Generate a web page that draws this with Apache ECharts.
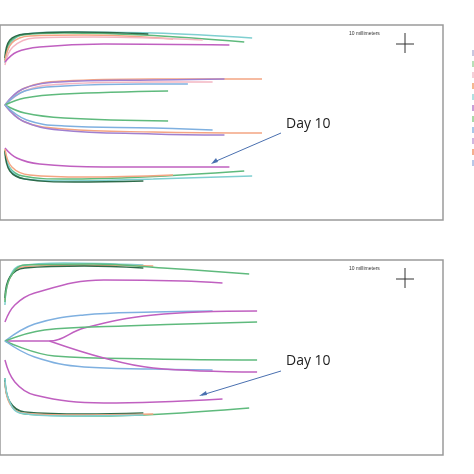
<!DOCTYPE html>
<html><head><meta charset="utf-8">
<script src="https://cdn.jsdelivr.net/npm/echarts@6/dist/echarts.min.js"></script>
<style>html,body{margin:0;background:#fff}#c{width:474px;height:474px}</style>
</head><body><div id="c"></div>
<script>
// curve points: [x, y] with y measured down from each panel's top edge
var topCurves = [
    {c: '#7fcfd0', p: [[0, 38], [6, 18], [20, 9], [60, 7], [150, 8], [250, 13]]},
    {c: '#5fba7d', p: [[0, 35], [5, 17], [18, 10], [60, 8], [140, 10], [242, 17]]},
    {c: '#2e6b4a', p: [[0, 33], [5, 15], [20, 9], [70, 7], [145, 9]]},
    {c: '#f4a582', p: [[0, 36], [7, 18], [25, 11], [80, 10], [170, 14]]},
    {c: '#f4b6c2', p: [[0, 40], [8, 22], [30, 13], [90, 12], [200, 15]]},
    {c: '#c060c0', p: [[0, 37], [12, 27], [35, 22], [100, 19], [227, 20]]},
    {c: '#f4a582', p: [[0, 80], [20, 63], [60, 56], [150, 54], [260, 54]]},
    {c: '#a080d0', p: [[0, 80], [18, 64], [55, 57], [150, 55], [222, 54]]},
    {c: '#f4b6c2', p: [[0, 80], [22, 65], [60, 59], [150, 57], [210, 57]]},
    {c: '#7fb0e0', p: [[0, 80], [20, 66], [60, 61], [140, 59], [185, 59]]},
    {c: '#5fba7d', p: [[0, 80], [20, 73], [60, 69], [165, 66]]},
    {c: '#5fba7d', p: [[0, 80], [20, 88], [60, 93], [165, 96]]},
    {c: '#f4a582', p: [[0, 80], [20, 97], [60, 104], [150, 107], [260, 108]]},
    {c: '#a080d0', p: [[0, 80], [18, 96], [55, 105], [150, 109], [222, 110]]},
    {c: '#7fb0e0', p: [[0, 80], [22, 95], [60, 101], [150, 103], [210, 105]]},
    {c: '#c060c0', p: [[0, 123], [12, 133], [35, 139], [100, 142], [227, 142]]},
    {c: '#5fba7d', p: [[0, 125], [5, 143], [18, 151], [60, 154], [140, 152], [242, 146]]},
    {c: '#7fcfd0', p: [[0, 127], [6, 145], [20, 154], [60, 156], [150, 154], [250, 151]]},
    {c: '#2e6b4a', p: [[0, 126], [5, 146], [20, 154], [70, 157], [140, 156]]},
    {c: '#f4a582', p: [[0, 124], [7, 142], [25, 150], [80, 152], [170, 150]]}
];
var bottomCurves = [
    {c: '#7fcfd0', p: [[0, 45], [4, 20], [15, 6], [60, 3], [140, 5]]},
    {c: '#f4a582', p: [[0, 40], [5, 18], [18, 7], [70, 5], [150, 6]]},
    {c: '#2e6b4a', p: [[0, 38], [5, 17], [20, 8], [80, 6], [140, 8]]},
    {c: '#5fba7d', p: [[0, 42], [5, 18], [20, 5], [90, 4], [160, 8], [247, 14]]},
    {c: '#c060c0', p: [[0, 62], [10, 45], [30, 33], [100, 20], [180, 21], [220, 23]]},
    {c: '#7fb0e0', p: [[0, 81], [30, 64], [80, 55], [150, 52], [210, 51]]},
    {c: '#c060c0', p: [[0, 81], [45, 81], [80, 68], [150, 55], [255, 51]]},
    {c: '#5fba7d', p: [[0, 81], [40, 70], [120, 66], [255, 62]]},
    {c: '#5fba7d', p: [[0, 81], [50, 96], [150, 99], [255, 100]]},
    {c: '#7fb0e0', p: [[0, 81], [30, 97], [80, 107], [150, 109], [210, 110]]},
    {c: '#c060c0', p: [[45, 81], [100, 98], [150, 108], [255, 112]]},
    {c: '#c060c0', p: [[0, 100], [10, 122], [30, 135], [100, 143], [220, 139]]},
    {c: '#5fba7d', p: [[0, 118], [5, 143], [20, 154], [90, 156], [160, 154], [247, 148]]},
    {c: '#2e6b4a', p: [[0, 120], [5, 142], [20, 152], [80, 154], [140, 153]]},
    {c: '#f4a582', p: [[0, 122], [5, 144], [18, 153], [70, 155], [150, 154]]},
    {c: '#7fcfd0', p: [[0, 118], [4, 140], [15, 153], [60, 156], [140, 155]]}
];
var panelTops = [25, 260];
var legendColors = ['#c8c8e0', '#b8e0b8', '#f4d0d8', '#f4b890', '#b0e0e0', '#c8a0d8', '#a8d8a8', '#a8c8e8', '#d0b8e0', '#f4b090', '#b8c8e8'];

var grids = [], xAxes = [], yAxes = [], series = [], graphics = [];
[topCurves, bottomCurves].forEach(function (curves, i) {
    grids.push({left: -5, top: panelTops[i], width: 448, height: 195, show: true, borderColor: '#9a9a9a', borderWidth: 1.5, backgroundColor: '#fff'});
    xAxes.push({gridIndex: i, type: 'value', min: -5, max: 443, show: false});
    yAxes.push({gridIndex: i, type: 'value', min: 0, max: 195, inverse: true, show: false});
    curves.forEach(function (cv) {
        series.push({type: 'line', xAxisIndex: i, yAxisIndex: i, data: cv.p, smooth: 0.4, showSymbol: false,
            lineStyle: {color: cv.c, width: 1.5}});
    });
    var t = panelTops[i];
    graphics.push(
        {type: 'text', left: 349, top: t + 6, style: {text: '10 millimeters', font: '5px "Liberation Sans"', fill: '#333'}},
        {type: 'line', shape: {x1: 405, y1: t + 8, x2: 405, y2: t + 28}, style: {stroke: '#333', lineWidth: 1}},
        {type: 'line', shape: {x1: 396, y1: t + 19, x2: 414, y2: t + 19}, style: {stroke: '#333', lineWidth: 1}},
        {type: 'text', left: 286, top: t + (i ? 94 : 92), style: {text: 'Day 10', font: '14px "Open Sans"', fill: '#222'}},
        {type: 'line', shape: {x1: 281, y1: t + (i ? 111 : 108), x2: i ? 202 : 214, y2: t + (i ? 135 : 137)}, style: {stroke: '#4a70b0', lineWidth: 1}},
        {type: 'polygon', shape: {points: i ? [[199, t + 136], [206, t + 131], [207, t + 135]] : [[211, t + 139], [216, t + 133], [218, t + 137]]}, style: {fill: '#4a70b0'}}
    );
});
legendColors.forEach(function (c, k) {
    graphics.push({type: 'rect', shape: {x: 472, y: 50 + k * 11, width: 3, height: 6}, style: {fill: c}});
});

var chart = echarts.init(document.getElementById('c'));
chart.setOption({animation: false, grid: grids, xAxis: xAxes, yAxis: yAxes, series: series, graphic: graphics});
</script></body></html>
